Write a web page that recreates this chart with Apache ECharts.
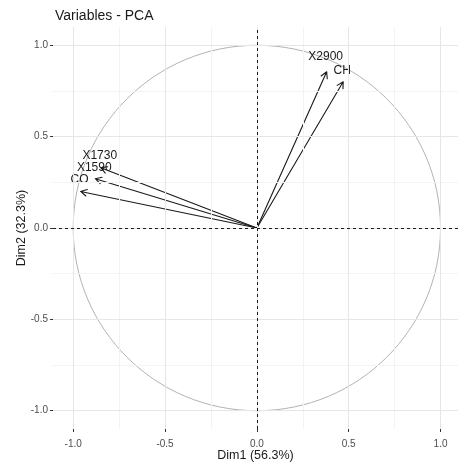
<!DOCTYPE html>
<html>
<head>
<meta charset="utf-8">
<script src="https://cdn.jsdelivr.net/npm/echarts@6/dist/echarts.min.js"></script>
<style>
  html, body { margin: 0; padding: 0; background: #fff; }
  #chart { width: 474px; height: 467px; }
</style>
</head>
<body>
<div id="chart"></div>
<script>
// variable coordinates on the first two dimensions
var varNames = ['X2900', 'CH', 'X1730', 'X1590', 'CO'];
var dim1 = [0.38, 0.47, -0.85, -0.88, -0.96];
var dim2 = [0.855, 0.80, 0.33, 0.27, 0.20];

var tickValues = [-1, -0.5, 0, 0.5, 1];
var minorValues = [-0.75, -0.25, 0.25, 0.75];

// decalage vertical des libelles (px), comme le repel d'origine
var labelLift = { X2900: 15, CH: 11, X1730: 12, X1590: 11, CO: 12 };

var fontName = '"Liberation Sans", Arial, sans-serif';

function gridLines(values, color) {
    var out = [];
    values.forEach(function (v) {
        out.push({ xAxis: v, lineStyle: { color: color, width: 1, type: 'solid' } });
        out.push({ yAxis: v, lineStyle: { color: color, width: 1, type: 'solid' } });
    });
    return out;
}

// fleche: ligne + tete ouverte + libelle
function renderArrow(params, api) {
    var p0 = api.coord([0, 0]);
    var p1 = api.coord([api.value(0), api.value(1)]);
    var ang = Math.atan2(p1[1] - p0[1], p1[0] - p0[0]);
    var len = 7, spread = 0.5;
    var h1 = [p1[0] - len * Math.cos(ang - spread), p1[1] - len * Math.sin(ang - spread)];
    var h2 = [p1[0] - len * Math.cos(ang + spread), p1[1] - len * Math.sin(ang + spread)];
    var style = { stroke: '#1a1a1a', lineWidth: 1.1, fill: null, lineCap: 'round', lineJoin: 'round' };
    var path = 'M' + p0[0] + ',' + p0[1] + 'L' + p1[0] + ',' + p1[1] +
        'M' + h1[0] + ',' + h1[1] + 'L' + p1[0] + ',' + p1[1] + 'L' + h2[0] + ',' + h2[1];
    var name = varNames[params.dataIndex];
    return {
        type: 'group',
        children: [
            { type: 'path', shape: { pathData: path }, style: style },
            {
                type: 'text',
                x: p1[0] - 1,
                y: p1[1] - labelLift[name],
                style: {
                    text: name,
                    fill: '#1a1a1a',
                    font: '12px ' + fontName,
                    align: 'center',
                    verticalAlign: 'middle'
                }
            }
        ]
    };
}

function renderCircle(params, api) {
    var c = api.coord([0, 0]);
    var r = api.size([1, 1]);
    return {
        type: 'ellipse',
        shape: { cx: c[0], cy: c[1], rx: r[0], ry: r[1] },
        style: { stroke: '#b3b3b3', lineWidth: 1, fill: null }
    };
}

var axisCommon = {
    type: 'value',
    axisLine: { show: false, onZero: false },
    splitLine: { show: false },
    axisTick: { show: true, length: 3, customValues: tickValues, lineStyle: { color: '#333', width: 1 } },
    axisLabel: {
        customValues: tickValues,
        color: '#4d4d4d',
        fontSize: 10,
        fontFamily: fontName,
        formatter: function (v) { return v.toFixed(1); }
    },
    nameLocation: 'middle',
    nameMoveOverlap: false,
    nameTextStyle: { color: '#1a1a1a', fontSize: 12.5, fontFamily: fontName }
};

var chart = echarts.init(document.getElementById('chart'), null, { renderer: 'canvas' });

var option = {
    backgroundColor: '#fff',
    animation: false,
    title: {
        text: 'Variables - PCA',
        left: 50,
        top: 4,
        textStyle: { color: '#1a1a1a', fontSize: 14, fontWeight: 'normal', fontFamily: fontName }
    },
    grid: { left: 53, right: 16, top: 27, bottom: 37 },
    xAxis: Object.assign({}, axisCommon, {
        min: -1.11, max: 1.095,
        name: 'Dim1 (56.3%)',
        nameGap: 20,
        axisLabel: Object.assign({}, axisCommon.axisLabel, { margin: 10 })
    }),
    yAxis: Object.assign({}, axisCommon, {
        min: -1.1, max: 1.1,
        name: 'Dim2 (32.3%)',
        nameGap: 25,
        axisLabel: Object.assign({}, axisCommon.axisLabel, { margin: 5 })
    }),
    series: [
        {
            type: 'scatter',
            data: [],
            silent: true,
            z: 1,
            markLine: {
                silent: true,
                symbol: 'none',
                label: { show: false },
                animation: false,
                data: gridLines(minorValues, '#f3f3f3').concat(gridLines(tickValues, '#e6e6e6'))
            }
        },
        {
            type: 'custom',
            renderItem: renderCircle,
            data: [[0, 0]],
            silent: true,
            clip: false,
            z: 2
        },
        {
            type: 'scatter',
            data: [],
            silent: true,
            z: 3,
            markLine: {
                silent: true,
                symbol: 'none',
                label: { show: false },
                animation: false,
                lineStyle: { color: '#1a1a1a', width: 1, type: [3, 3] },
                data: [{ xAxis: 0 }, { yAxis: 0 }]
            }
        },
        {
            type: 'custom',
            renderItem: renderArrow,
            data: dim1.map(function (x, i) { return [x, dim2[i]]; }),
            clip: false,
            z: 4
        }
    ]
};

chart.setOption(option);
</script>
</body>
</html>
